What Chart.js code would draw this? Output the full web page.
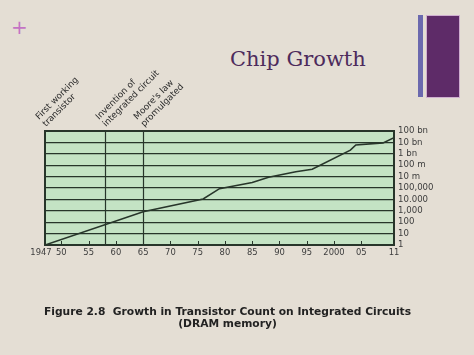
<!DOCTYPE html>
<html>
<head>
<meta charset="utf-8">
<script src="https://cdn.jsdelivr.net/npm/chart.js@4"></script>
<style>
  html, body { margin: 0; padding: 0; }
  body { width: 474px; height: 355px; background: #e4ded4; position: relative; overflow: hidden; font-family: "DejaVu Sans", sans-serif; }
  #chipChart { position: absolute; left: 0; top: 0; }
  .plus { position: absolute; left: 11px; top: 17px; font-size: 20px; line-height: 20px; color: #c474c4; }
  .slideTitle { position: absolute; left: 230px; top: 47px; font-family: "DejaVu Serif", serif; font-size: 21px; color: #4d2b5c; white-space: nowrap; }
  .barThin { position: absolute; left: 418px; top: 15px; width: 5px; height: 82px; background: #6b69ae; }
  .barWide { position: absolute; left: 426px; top: 15px; width: 32px; height: 81px; background: #5e2b68; border: 1px solid #cfaed0; }
  .caption { position: absolute; left: 0; top: 306px; width: 455px; text-align: center; font-weight: bold; font-size: 10.7px; line-height: 12px; color: #222; }
</style>
</head>
<body>
<div class="plus">+</div>
<div class="slideTitle">Chip Growth</div>
<div class="barThin"></div>
<div class="barWide"></div>
<canvas id="chipChart" width="474" height="355"></canvas>
<div class="caption">Figure 2.8&nbsp; Growth in Transistor Count on Integrated Circuits<br>(DRAM memory)</div>
<script>
// data (values in gridline steps of the drawn axis)
var years = [1947, 1965, 1976, 1979, 1985, 1988, 1993, 1996, 2003, 2004, 2009, 2011];
var counts = [1, 830, 11000, 87000, 300000, 870000, 2700000, 4400000, 210000000, 590000000, 900000000, 2600000000];

var xTickValues = [1947, 1950, 1955, 1960, 1965, 1970, 1975, 1980, 1985, 1990, 1995, 2000, 2005, 2011];
var xTickLabels = ['1947   ', '50', '55', '60', '65', '70', '75', '80', '85', '90', '95', '2000', '05', '11'];

// the picture's axis has 11 gridlines, labelled as printed
var yTickValues = [1, 10, 100, 1e3, 1e4, 1e5, 1e6, 1e7, 1e8, 1e9, 1e10];
var yTickLabels = ['1', '10', '100', '1,000', '10.000', '100,000', '10 m', '100 m', '1 bn', '10 bn', '100 bn'];

var eventYears = [1947, 1958, 1965];
var eventLabels = [['First working', 'transistor'], ['Invention of', 'integrated circuit'], ['Moore\'s law', 'promulgated']];

var plotFill = '#c4e3c4';
var lineDark = '#27352a';

var plotDecor = {
  id: 'plotDecor',
  beforeDraw: function(chart) {
    var ctx = chart.ctx, a = chart.chartArea;
    ctx.save();
    ctx.fillStyle = plotFill;
    ctx.fillRect(a.left, a.top, a.right - a.left, a.bottom - a.top);
    ctx.restore();
  },
  afterDatasetsDraw: function(chart) {
    var ctx = chart.ctx, a = chart.chartArea, x = chart.scales.x;
    ctx.save();
    // event lines
    ctx.strokeStyle = lineDark;
    ctx.lineWidth = 1.2;
    eventYears.slice(1).forEach(function(yr) {
      var px = Math.round(x.getPixelForValue(yr)) + 0.5;
      ctx.beginPath();
      ctx.moveTo(px, a.top);
      ctx.lineTo(px, a.bottom);
      ctx.stroke();
    });
    // inner tick marks
    ctx.lineWidth = 1;
    xTickValues.forEach(function(v) {
      var px = Math.round(x.getPixelForValue(v)) + 0.5;
      ctx.beginPath();
      ctx.moveTo(px, a.bottom);
      ctx.lineTo(px, a.bottom - 4);
      ctx.stroke();
    });
    // frame
    ctx.lineWidth = 2;
    ctx.strokeRect(a.left, a.top, a.right - a.left, a.bottom - a.top);
    // rotated event labels
    ctx.fillStyle = '#2b2b2b';
    ctx.font = '8.8px "DejaVu Sans"';
    ctx.textBaseline = 'alphabetic';
    eventYears.forEach(function(yr, i) {
      var px = x.getPixelForValue(yr);
      ctx.save();
      ctx.translate(px + 1, a.top - 4);
      ctx.rotate(-Math.PI / 4);
      ctx.fillText(eventLabels[i][1], 0, 0);
      ctx.fillText(eventLabels[i][0], 0, -10);
      ctx.restore();
    });
    ctx.restore();
  }
};

var ctx1 = document.getElementById('chipChart').getContext('2d');
new Chart(ctx1, {
  type: 'line',
  data: {
    datasets: [{
      label: 'Transistor count',
      data: years.map(function(y, i) { return { x: y, y: counts[i] }; }),
      borderColor: lineDark,
      borderWidth: 1.6,
      pointRadius: 0,
      tension: 0,
      fill: false
    }]
  },
  options: {
    responsive: false,
    animation: false,
    layout: { padding: { left: 45, top: 131, right: 10, bottom: 90 } },
    plugins: { legend: { display: false }, tooltip: { enabled: false } },
    scales: {
      x: {
        type: 'linear',
        min: 1947,
        max: 2011,
        afterBuildTicks: function(scale) {
          scale.ticks = xTickValues.map(function(v) { return { value: v }; });
        },
        afterFit: function(scale) { scale.height = 20; },
        grid: { display: false },
        border: { display: false },
        ticks: {
          autoSkip: false,
          maxRotation: 0,
          padding: -5,
          color: '#3d3d3d',
          font: { family: 'DejaVu Sans', size: 8.4 },
          callback: function(v) {
            var i = xTickValues.indexOf(v);
            return i >= 0 ? xTickLabels[i] : '';
          }
        }
      },
      y: {
        type: 'logarithmic',
        position: 'right',
        min: 1,
        max: 1e10,
        afterBuildTicks: function(scale) {
          scale.ticks = yTickValues.map(function(v) { return { value: v }; });
        },
        afterFit: function(scale) { scale.width = 70; },
        grid: { color: lineDark, lineWidth: 1.3, drawTicks: false },
        border: { display: false },
        ticks: {
          autoSkip: false,
          padding: 4,
          color: '#3d3d3d',
          font: { family: 'DejaVu Sans', size: 8.6 },
          callback: function(v) {
            var i = yTickValues.indexOf(v);
            return i >= 0 ? yTickLabels[i] : '';
          }
        }
      }
    }
  },
  plugins: [plotDecor]
});
</script>
</body>
</html>
